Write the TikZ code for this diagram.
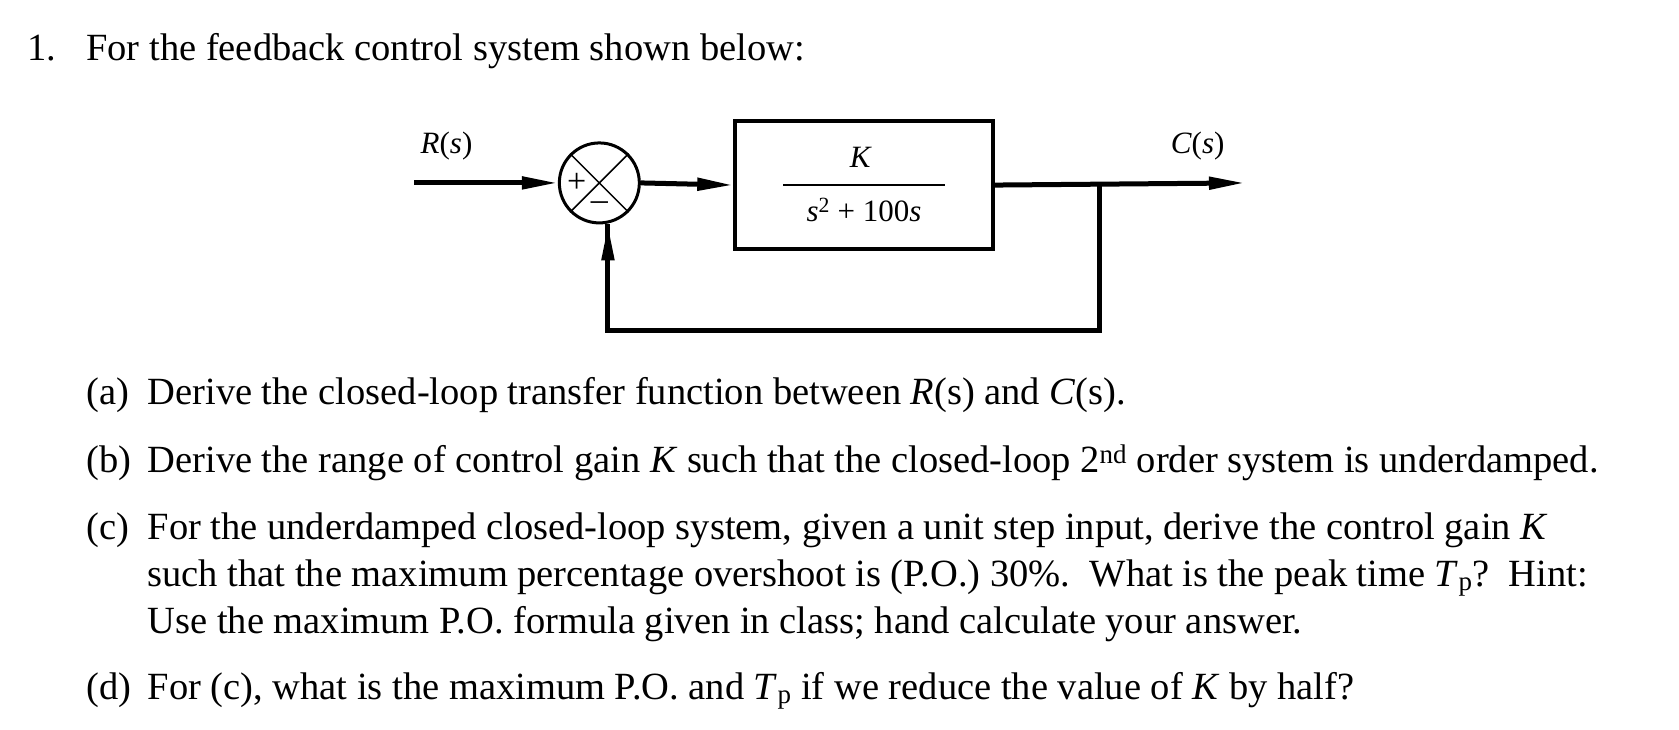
\documentclass[tikz,border=0pt]{standalone}
\usepackage{fontspec}
\setmainfont{Liberation Serif}
\usetikzlibrary{arrows.meta,calc}
\begin{document}
\begin{tikzpicture}[x=1.076pt,y=-1.076pt,
  sig/.style={line width=5pt,-{Triangle[length=36pt,width=12pt]}},
  wire/.style={line width=5pt},
  txt/.style={anchor=base west,inner sep=0pt,font=\fontsize{38.5}{42}\selectfont},
  lbl/.style={inner sep=0pt,font=\fontsize{31}{34}\selectfont}]
\useasboundingbox (0,0) rectangle (1560.4,678.4);
% diagram
\coordinate (rin) at (385,170);
\node[circle,draw,line width=3pt,minimum size=80pt,inner sep=0pt] (sum) at (557,170) {};
\draw[line width=1.5pt] (sum.north west) -- (sum.south east) (sum.north east) -- (sum.south west);
\node[inner sep=0pt,font=\fontsize{34}{36}\selectfont] (plus) at ($(sum.center)+(-21,0)$) {+};
\node[inner sep=0pt,font=\fontsize{34}{36}\selectfont] (minus) at ($(sum.center)+(0,22)$) {--};
\node[draw,line width=3.5pt,minimum width=258pt,minimum height=128pt] (G) at (803,172) {};
\node[lbl] (K) at (800,146) {\textit{K}};
\draw[line width=1.5pt] (728,172) coordinate (fl) -- (878,172) coordinate (fr);
\node[lbl] (den) at (803,195) {\textit{s}\textsuperscript{2} + 100\textit{s}};
\coordinate (out) at (1157,170);
\coordinate (br) at (1022,170);
\coordinate (b1) at (1022,307);
\coordinate (b2) at (565,307);
\draw[sig] (rin) -- (sum.west);
\draw[sig] (sum.east) -- (G.west);
\draw[sig] (G.east) -- (out);
\draw[wire] (br) -- (b1) -- (b2) -- (b2 |- sum.south);
\draw[sig] (b2) -- (b2 |- sum.south);
\node[lbl] (R) at (415,136) {\textit{R}(\textit{s})};
\node[lbl] (C) at (1113,136) {\textit{C}(\textit{s})};
% text
\node[txt] (n1) at (25,56) {1.};
\node[txt] (t1) at (80,56) {For the feedback control system shown below:};
\node[txt] (a) at (80,376) {(a)};
\node[txt] (ta) at (137,376) {Derive the closed-loop transfer function between \textit{R}(s) and \textit{C}(s).};
\node[txt] (b) at (80,439) {(b)};
\node[txt] (tb) at (137,439) {Derive the range of control gain \textit{K} such that the closed-loop 2\textsuperscript{nd} order system is underdamped.};
\node[txt] (c) at (80,501) {(c)};
\node[txt] (tc1) at (137,501) {For the underdamped closed-loop system, given a unit step input, derive the control gain \textit{K}};
\node[txt] (tc2) at (137,545) {such that the maximum percentage overshoot is (P.O.) 30\%.\ \ What is the peak time \textit{T}\textsubscript{p}?\ \ Hint:};
\node[txt] (tc3) at (137,589) {Use the maximum P.O. formula given in class; hand calculate your answer.};
\node[txt] (d) at (80,650) {(d)};
\node[txt] (td) at (137,650) {For (c), what is the maximum P.O. and \textit{T}\textsubscript{p} if we reduce the value of \textit{K} by half?};
\end{tikzpicture}
\end{document}
